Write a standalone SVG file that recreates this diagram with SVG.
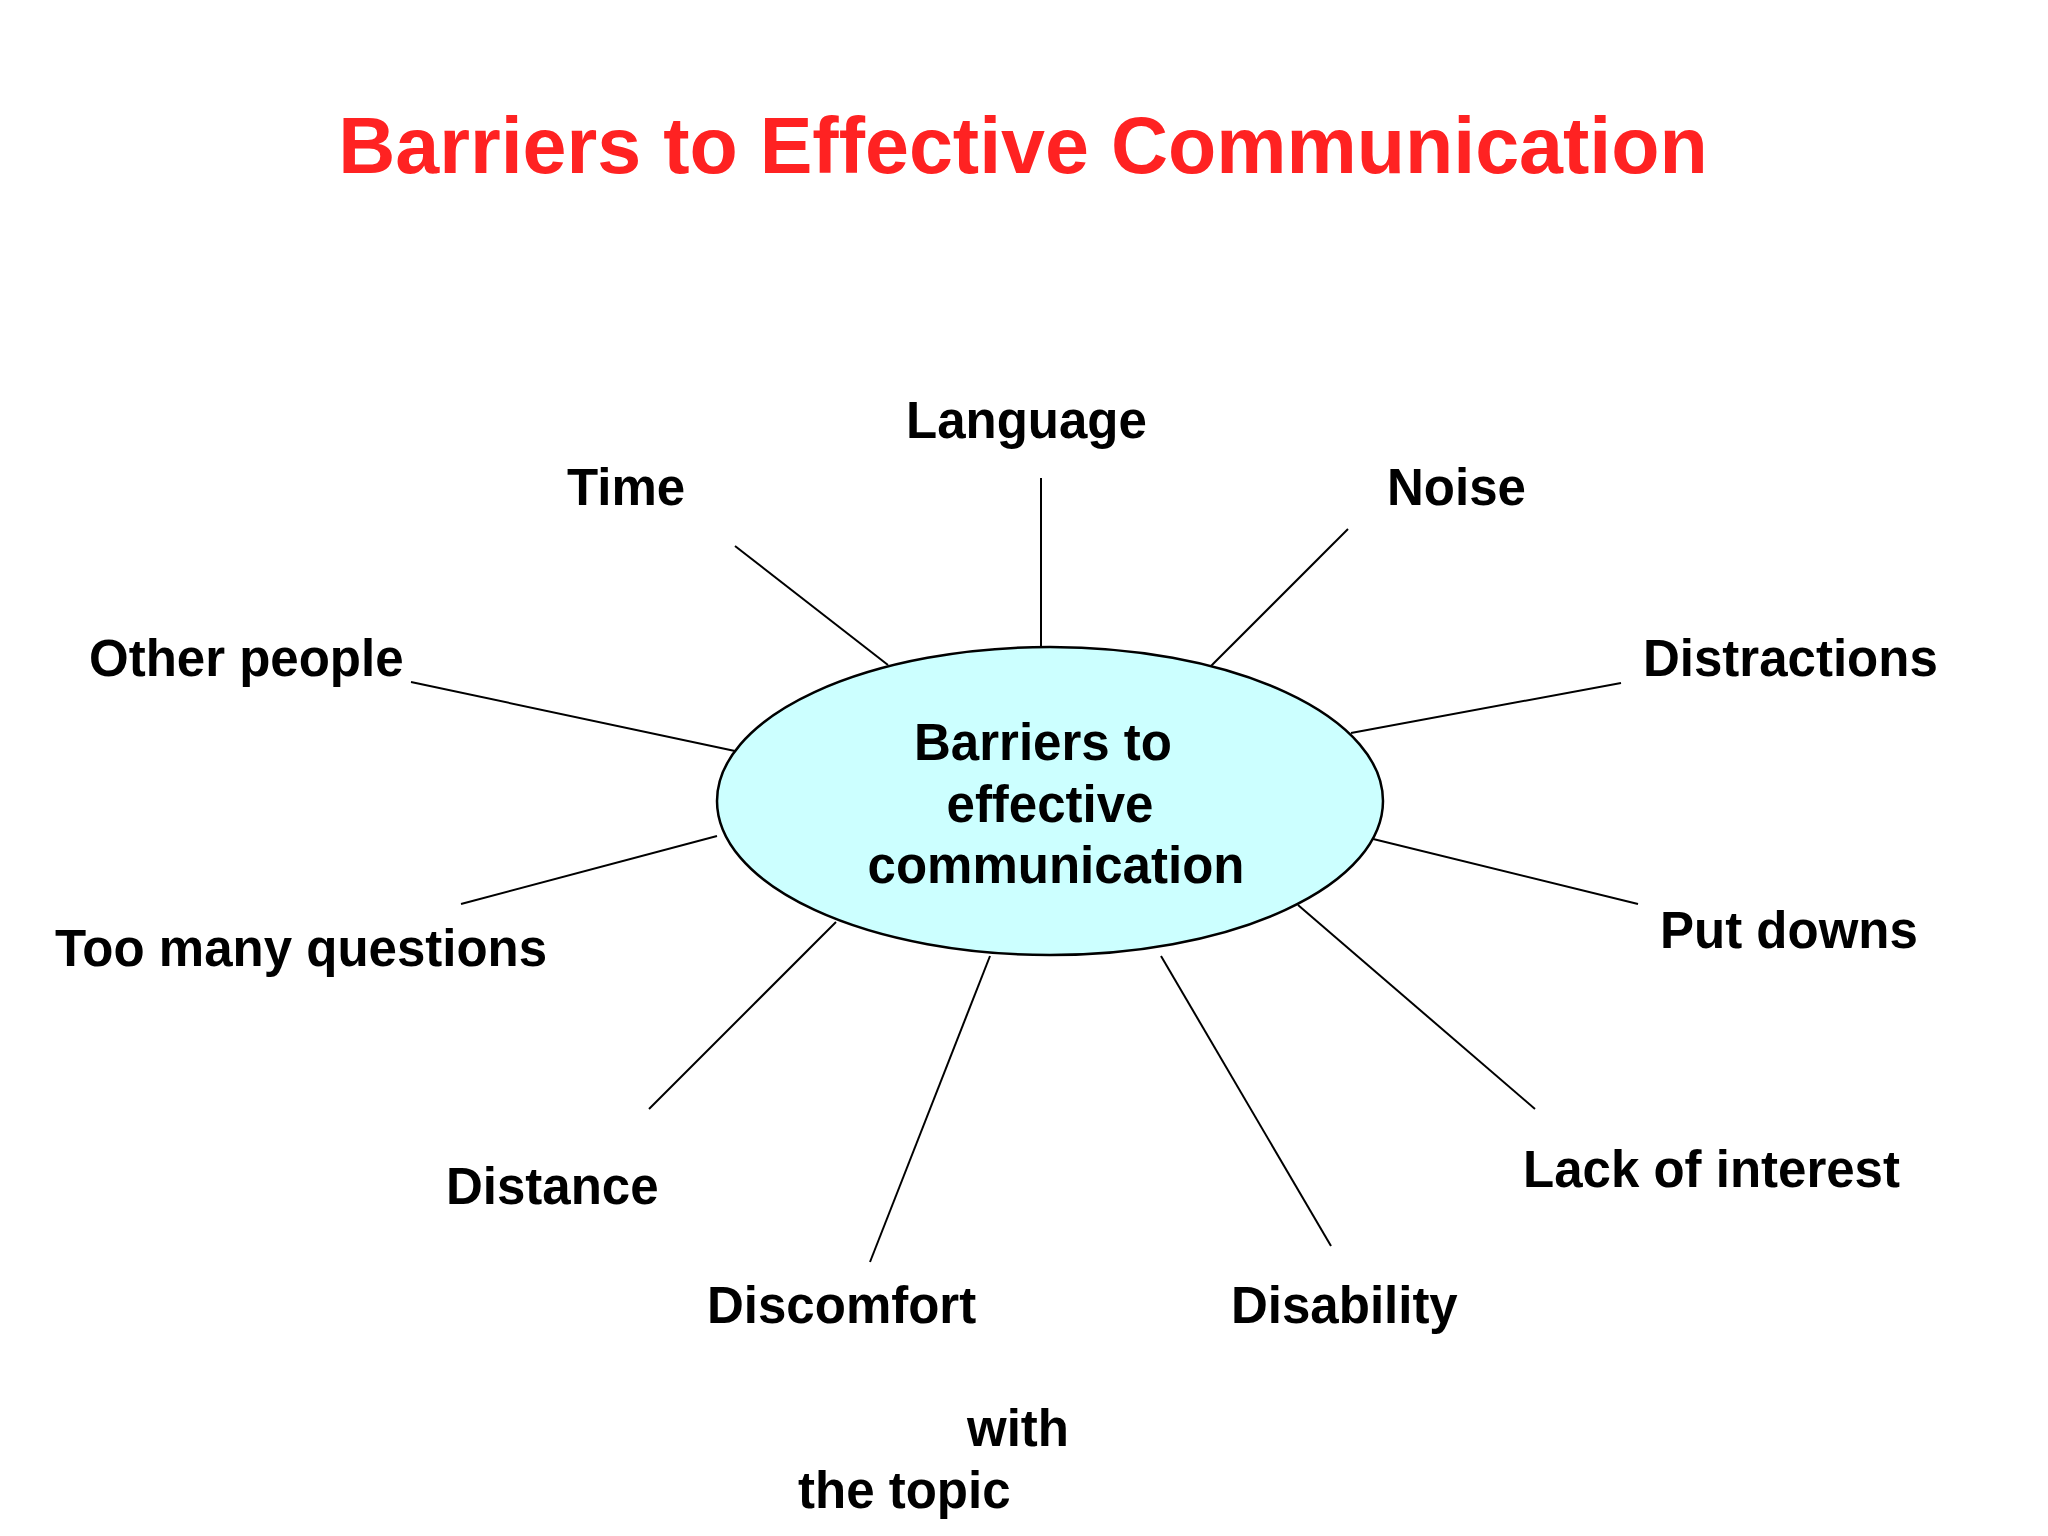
<svg xmlns="http://www.w3.org/2000/svg" width="2048" height="1536" viewBox="0 0 2048 1536">
<style>
.lbl{font-family:"Liberation Sans",Arial,sans-serif;font-weight:bold;font-size:51px;fill:#000}
.title{font-family:"Liberation Sans",Arial,sans-serif;font-weight:bold;font-size:79px;fill:#FF2222}
.conn line{stroke:#000;stroke-width:2;fill:none}
</style>
<rect width="2048" height="1536" fill="#fff"/>
<text class="title" x="1023" y="173" text-anchor="middle">Barriers to Effective Communication</text>
<g id="connectors" class="conn">
<line x1="1041" y1="478" x2="1041" y2="648"/>
<line x1="735" y1="546" x2="888" y2="665"/>
<line x1="1348" y1="529" x2="1211" y2="666"/>
<line x1="1621" y1="683" x2="1351" y2="733"/>
<line x1="411" y1="682" x2="735" y2="751"/>
<line x1="1638" y1="904" x2="1365" y2="837"/>
<line x1="461" y1="904" x2="717" y2="836"/>
<line x1="1535" y1="1109" x2="1298" y2="905"/>
<line x1="649" y1="1109" x2="836" y2="922"/>
<line x1="870" y1="1262" x2="990" y2="956"/>
<line x1="1331" y1="1246" x2="1161" y2="956"/>
</g>
<g id="center">
<ellipse cx="1050" cy="801" rx="333" ry="154" fill="#CCFFFF" stroke="#000" stroke-width="2.5"/>
<text class="lbl" x="1043" y="760" text-anchor="middle">Barriers to</text>
<text class="lbl" x="1050" y="822" text-anchor="middle">effective</text>
<text class="lbl" x="1056" y="883" text-anchor="middle">communication</text>
</g>
<g id="language"><text class="lbl" x="906" y="438">Language</text></g>
<g id="time"><text class="lbl" x="567" y="505">Time</text></g>
<g id="noise"><text class="lbl" x="1387" y="505">Noise</text></g>
<g id="other-people"><text class="lbl" x="89" y="676">Other people</text></g>
<g id="distractions"><text class="lbl" x="1643" y="676">Distractions</text></g>
<g id="too-many-questions"><text class="lbl" x="55" y="966">Too many questions</text></g>
<g id="put-downs"><text class="lbl" x="1660" y="948">Put downs</text></g>
<g id="distance"><text class="lbl" x="446" y="1204">Distance</text></g>
<g id="lack-of-interest"><text class="lbl" x="1523" y="1187">Lack of interest</text></g>
<g id="discomfort">
<text class="lbl" x="707" y="1323">Discomfort</text>
<text class="lbl" x="967" y="1446">with</text>
<text class="lbl" x="798" y="1508">the topic</text>
</g>
<g id="disability"><text class="lbl" x="1231" y="1323">Disability</text></g>
</svg>
